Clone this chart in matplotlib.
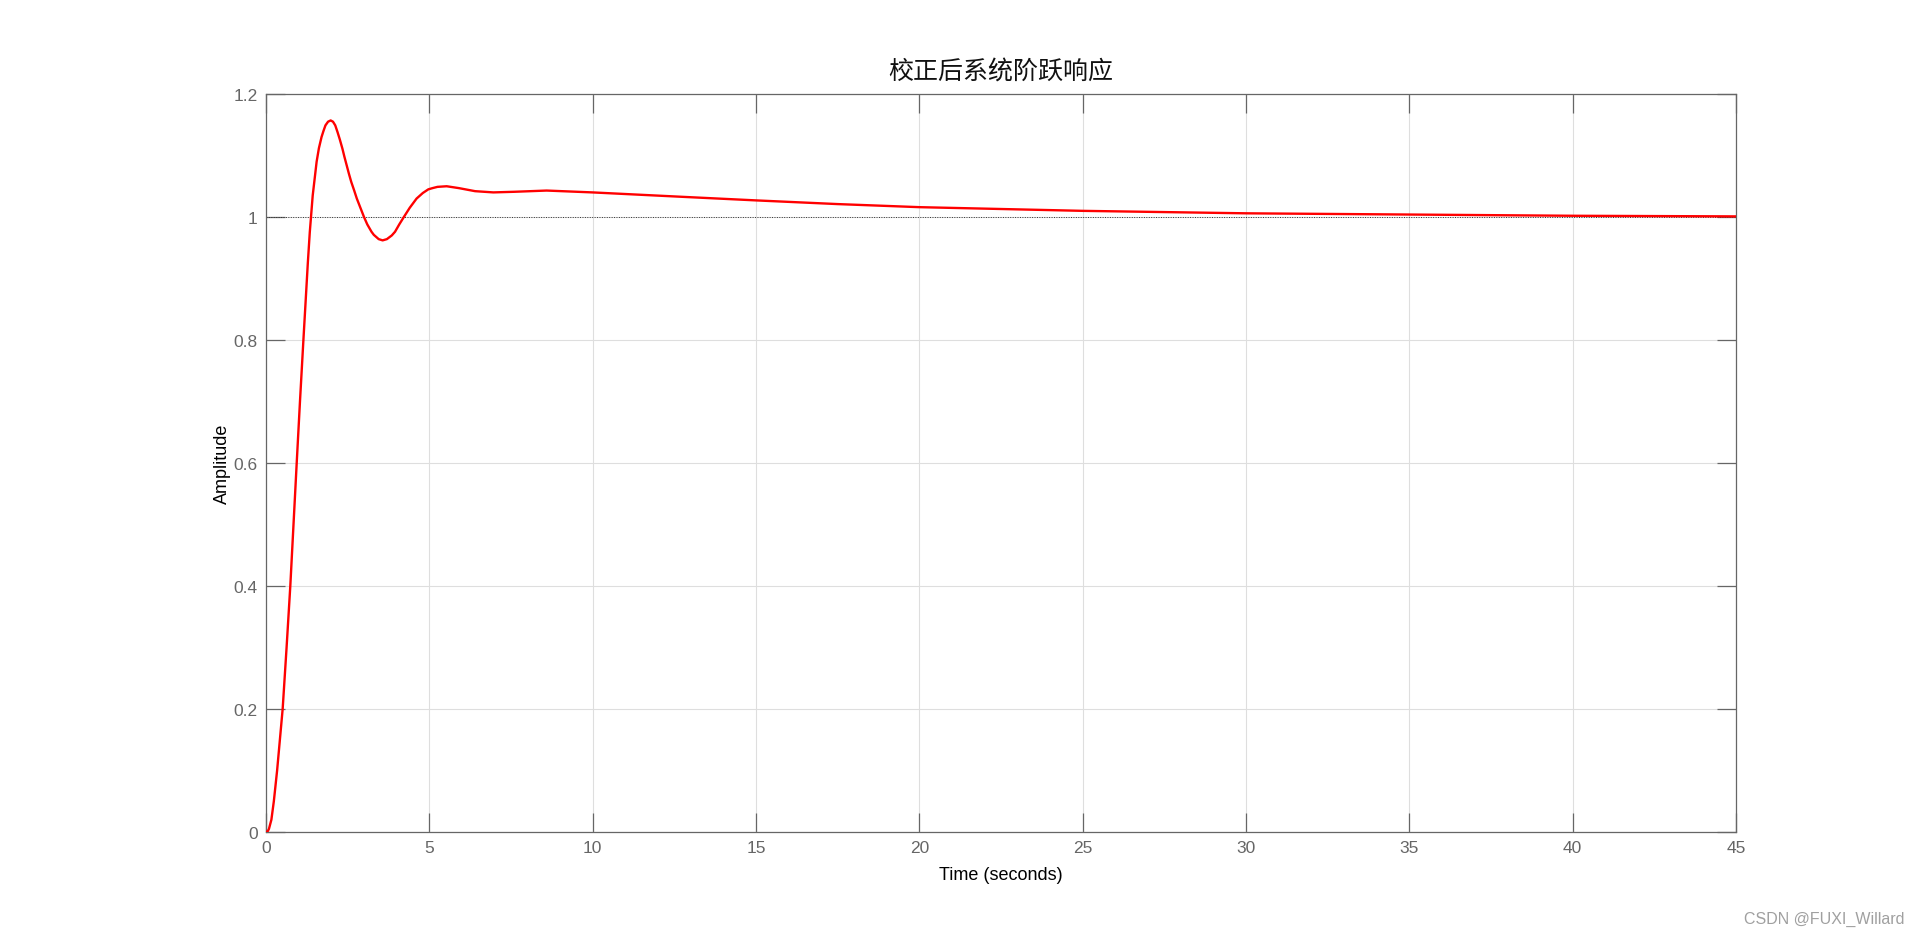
import matplotlib
matplotlib.use("Agg")
import matplotlib.pyplot as plt

# step response values
time_s = [0, 0.05, 0.09, 0.165, 0.24, 0.34, 0.51, 0.63, 0.744, 0.94, 1.04, 1.145,
          1.21, 1.28, 1.34, 1.43, 1.55, 1.62, 1.70, 1.76, 1.82, 1.90, 1.98, 2.05,
          2.12, 2.19, 2.26, 2.34, 2.40, 2.47, 2.54, 2.61, 2.70, 2.78, 2.89, 3.0,
          3.1, 3.23, 3.3, 3.45, 3.57, 3.7, 3.85, 3.95, 4.08, 4.22, 4.4, 4.61,
          4.8, 4.97, 5.1, 5.25, 5.53, 5.9, 6.4, 6.96, 7.6, 8.59, 9.99, 12.67,
          15, 17.5, 20, 22.5, 25, 30, 35, 40, 45]
amplitude = [0, 0.001, 0.005, 0.02, 0.05, 0.1, 0.2, 0.3, 0.4, 0.6, 0.7, 0.8,
             0.86, 0.925, 0.975, 1.035, 1.09, 1.112, 1.13, 1.140, 1.149, 1.155,
             1.157, 1.155, 1.149, 1.138, 1.126, 1.111, 1.098, 1.084, 1.070, 1.057,
             1.043, 1.030, 1.015, 1.0, 0.988, 0.976, 0.971, 0.964, 0.962, 0.964,
             0.970, 0.976, 0.988, 1.0, 1.015, 1.030, 1.039, 1.045, 1.047, 1.049,
             1.050, 1.047, 1.042, 1.040, 1.041, 1.043, 1.040, 1.033, 1.027, 1.021,
             1.016, 1.013, 1.010, 1.006, 1.004, 1.002, 1.001]
steady_value = 1.0
x_ticks = [0, 5, 10, 15, 20, 25, 30, 35, 40, 45]
y_ticks = [0, 0.2, 0.4, 0.6, 0.8, 1, 1.2]
y_tick_labels = ["0", "0.2", "0.4", "0.6", "0.8", "1", "1.2"]

plt.rcParams["font.family"] = ["Liberation Sans", "DejaVu Sans"]

axis_gray = "#666666"
fig = plt.figure(figsize=(19.2, 9.37), dpi=100)
ax = fig.add_axes([266 / 1920, 1 - 833 / 937, 1470 / 1920, 738 / 937])

ax.plot(time_s, amplitude, color="red", linewidth=1.7, zorder=3,
        solid_joinstyle="round")
ax.axhline(steady_value, color="#333333", linestyle=(0, (1, 1.5)), linewidth=0.7, zorder=2)

ax.set_xlim(0, 45)
ax.set_ylim(0, 1.2)
ax.set_xticks(x_ticks)
ax.set_yticks(y_ticks)
ax.set_yticklabels(y_tick_labels)
ax.grid(True, color="#dedede", linewidth=0.8, zorder=0)
ax.set_axisbelow(True)

for s in ax.spines.values():
    s.set_color(axis_gray)
    s.set_linewidth(0.9)
ax.tick_params(direction="in", length=14, width=0.9, color=axis_gray,
               labelcolor=axis_gray, labelsize=12.5, top=True, right=True, pad=6)

ax.set_xlabel("Time (seconds)", fontsize=13, color="black", labelpad=8)
ax.set_ylabel("Amplitude", fontsize=13, color="black", labelpad=2)
ax.set_title("校正后系统阶跃响应", fontsize=18, color="#111111", pad=12,
             family=["Noto Sans CJK SC", "DejaVu Sans"])

fig.text(1905 / 1920, 1 - 919 / 937, "CSDN @FUXI_Willard", ha="right", va="center",
         fontsize=11.5, color="#a0a0a0")

fig.savefig("out.png", dpi=100)
